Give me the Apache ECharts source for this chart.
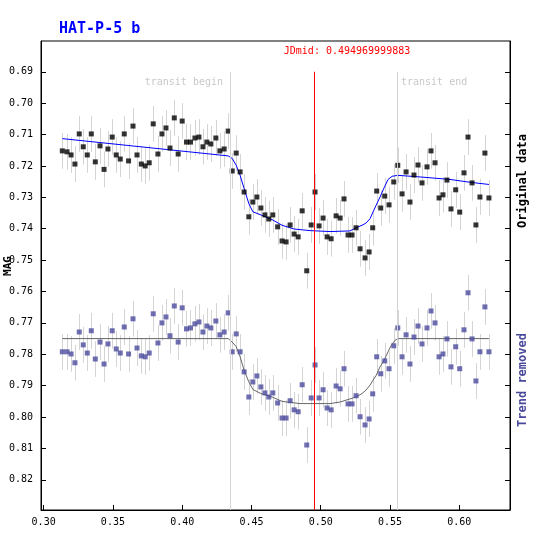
<!DOCTYPE html>
<html><head><meta charset="utf-8">
<script src="https://cdn.jsdelivr.net/npm/echarts@6/dist/echarts.min.js"></script>
<style>html,body{margin:0;padding:0;background:#fff}#c{width:550px;height:550px}</style>
</head><body><div id="c"></div>
<script>
const phase = [0.3135,0.3169,0.3198,0.3226,0.3257,0.3286,0.3315,0.3344,0.3373,0.3407,
0.3436,0.3464,0.3495,0.3524,0.3553,0.3582,0.3613,0.3645,0.3674,0.3705,
0.3733,0.3762,0.3791,0.3825,0.3854,0.3883,0.3912,0.3943,0.3971,0.4000,
0.4031,0.4060,0.4092,0.4121,0.4150,0.4178,0.4207,0.4243,0.4272,0.4303,
0.4332,0.4361,0.4390,0.4418,0.4447,0.4481,0.4510,0.4539,0.4568,0.4597,
0.4625,0.4654,0.4689,0.4721,0.4750,0.4779,0.4808,0.4837,0.4866,0.4899,
0.4931,0.4959,0.4988,0.5017,0.5046,0.5075,0.5111,0.5140,0.5168,0.5197,
0.5226,0.5255,0.5284,0.5320,0.5349,0.5375,0.5404,0.5433,0.5462,0.5493,
0.5527,0.5556,0.5587,0.5616,0.5644,0.5673,0.5702,0.5731,0.5767,0.5796,
0.5825,0.5854,0.5882,0.5911,0.5940,0.5974,0.6003,0.6034,0.6063,0.6092,
0.6120,0.6149,0.6185,0.6214];
const magOriginal = [0.7152,0.7155,0.7165,0.7194,0.7098,0.7139,0.7165,0.7098,0.7187,0.7136,
0.7211,0.7146,0.7108,0.7165,0.7178,0.7098,0.7184,0.7073,0.7165,0.7194,
0.7200,0.7190,0.7066,0.7162,0.7098,0.7079,0.7143,0.7047,0.7162,0.7057,
0.7124,0.7124,0.7111,0.7108,0.7139,0.7124,0.7130,0.7111,0.7152,0.7146,
0.7089,0.7216,0.7159,0.7219,0.7283,0.7362,0.7315,0.7299,0.7334,0.7356,
0.7369,0.7356,0.7394,0.7439,0.7442,0.7388,0.7417,0.7426,0.7343,0.7534,
0.7388,0.7283,0.7391,0.7366,0.7426,0.7432,0.7359,0.7366,0.7305,0.7420,
0.7420,0.7397,0.7464,0.7493,0.7474,0.7397,0.7280,0.7334,0.7296,0.7324,
0.7251,0.7198,0.7289,0.7219,0.7315,0.7229,0.7197,0.7254,0.7203,0.7152,
0.7190,0.7302,0.7292,0.7245,0.7337,0.7276,0.7347,0.7222,0.7108,0.7254,
0.7388,0.7299,0.7159,0.7302];
const magDetrended = [0.7792,0.7792,0.7799,0.7827,0.7729,0.7770,0.7796,0.7725,0.7815,0.7761,
0.7831,0.7767,0.7725,0.7783,0.7796,0.7713,0.7799,0.7687,0.7780,0.7805,
0.7808,0.7796,0.7671,0.7764,0.7700,0.7681,0.7741,0.7646,0.7761,0.7652,
0.7719,0.7716,0.7703,0.7697,0.7729,0.7710,0.7716,0.7694,0.7738,0.7729,
0.7668,0.7792,0.7735,0.7792,0.7856,0.7936,0.7888,0.7869,0.7904,0.7923,
0.7936,0.7923,0.7955,0.8003,0.8003,0.7948,0.7977,0.7983,0.7897,0.8089,
0.7939,0.7834,0.7939,0.7913,0.7971,0.7977,0.7901,0.7910,0.7846,0.7958,
0.7958,0.7932,0.7999,0.8025,0.8006,0.7926,0.7808,0.7862,0.7821,0.7846,
0.7773,0.7716,0.7808,0.7738,0.7831,0.7745,0.7710,0.7767,0.7716,0.7662,
0.7700,0.7808,0.7799,0.7751,0.7840,0.7776,0.7846,0.7722,0.7604,0.7751,
0.7885,0.7792,0.7649,0.7792];
const magError = 0.0057;
const trendX = [0.3135,0.4332,0.4361,0.4390,0.4418,0.4447,0.4481,0.4510,0.4568,0.4649,0.4721,0.4808,0.4923,0.5067,0.5211,0.5255,0.5298,0.5327,0.5356,0.5378,0.5400,0.5428,0.5457,0.5486,0.5515,0.5556,0.5716,0.5933,0.6077,0.6214];
const trendY = [0.7113,0.7168,0.7176,0.7198,0.7230,0.7272,0.7320,0.7346,0.7356,0.7371,0.7389,0.7401,0.7406,0.7409,0.7407,0.7397,0.7389,0.7382,0.7368,0.7346,0.7325,0.7299,0.7270,0.7243,0.7233,0.7230,0.7235,0.7243,0.7252,0.7259];
const modelX = [0.3135,0.4332,0.4361,0.4390,0.4418,0.4447,0.4481,0.4510,0.4568,0.4649,0.4721,0.4851,0.5067,0.5140,0.5255,0.5298,0.5327,0.5356,0.5378,0.5400,0.5428,0.5457,0.5486,0.5508,0.5537,0.5559,0.6214];
const modelY = [0.7750,0.7750,0.7761,0.7776,0.7808,0.7851,0.7888,0.7912,0.7925,0.7936,0.7950,0.7957,0.7957,0.7952,0.7936,0.7925,0.7914,0.7898,0.7882,0.7867,0.7840,0.7819,0.7792,0.7772,0.7755,0.7750,0.7750];
const xTicks = [0.30,0.35,0.40,0.45,0.50,0.55,0.60];
const yTicks = [0.69,0.70,0.71,0.72,0.73,0.74,0.75,0.76,0.77,0.78,0.79,0.80,0.81,0.82];
const transitBegin = 0.4349;
const transitEnd = 0.5553;
const jdMid = 0.494969999883;
const markTop = 0.69;

const MONO = "'DejaVu Sans Mono', monospace";
const X_MIN = 0.2981, X_MAX = 0.6366, Y_MIN = 0.6802, Y_MAX = 0.8296;

const ptsOrig = phase.map((p,i)=>[p, magOriginal[i], magError]);
const ptsDet = phase.map((p,i)=>[p, magDetrended[i], magError]);
const trendData = trendX.map((x,i)=>[x, trendY[i]]);
const modelData = modelX.map((x,i)=>[x, modelY[i]]);

function errBar(params, api){
  const x = api.value(0), y = api.value(1), e = api.value(2);
  const a = api.coord([x, y - e]), b = api.coord([x, y + e]);
  const px = Math.round(a[0]) + 0.5;
  return {type:'line', shape:{x1:px, y1:a[1], x2:px, y2:b[1]}, style:{stroke:'#d4d4d4', lineWidth:1}};
}

const chart = echarts.init(document.getElementById('c'), null, {renderer:'canvas'});
const axisLabelStyle = {color:'#000', fontFamily:MONO, fontSize:10};
chart.setOption({
  animation:false,
  backgroundColor:'#fff',
  title:{text:'HAT-P-5 b', left:54, top:17, textStyle:{color:'#0000ff', fontFamily:MONO, fontSize:15, fontWeight:'bold'}},
  grid:{left:41, right:40, top:41, bottom:40, show:true, borderColor:'#000', borderWidth:1, containLabel:false},
  xAxis:{type:'value', min:X_MIN, max:X_MAX, splitLine:{show:false},
    axisLine:{show:true, onZero:false, lineStyle:{color:'#000'}},
    axisTick:{show:true, inside:true, length:5, customValues:xTicks, lineStyle:{color:'#000'}},
    axisLabel:{show:true, customValues:xTicks, formatter:v=>v.toFixed(2), margin:7, ...axisLabelStyle}},
  yAxis:[
    {type:'value', inverse:true, min:Y_MIN, max:Y_MAX, splitLine:{show:false},
      axisLine:{show:true, lineStyle:{color:'#000'}},
      axisTick:{show:true, inside:true, length:5, customValues:yTicks, lineStyle:{color:'#000'}},
      axisLabel:{show:true, customValues:yTicks, formatter:v=>v.toFixed(2), margin:8, ...axisLabelStyle}},
    {type:'value', inverse:true, position:'right', min:Y_MIN, max:Y_MAX, splitLine:{show:false},
      axisLine:{show:true, lineStyle:{color:'#000'}},
      axisTick:{show:true, inside:true, length:5, customValues:yTicks, lineStyle:{color:'#000'}},
      axisLabel:{show:false}}
  ],
  series:[
    {type:'custom', renderItem:errBar, data:ptsOrig, encode:{x:0,y:1}, silent:true, z:1},
    {type:'custom', renderItem:errBar, data:ptsDet, encode:{x:0,y:1}, silent:true, z:1},
    {type:'line', data:[], silent:true, z:2,
      markLine:{silent:true, symbol:'none', label:{show:false}, animation:false,
        data:[
          [{coord:[transitBegin, markTop], lineStyle:{color:'#d4d4d4', width:1, type:'solid'}},{coord:[transitBegin, Y_MAX]}],
          [{coord:[transitEnd, markTop], lineStyle:{color:'#d4d4d4', width:1, type:'solid'}},{coord:[transitEnd, Y_MAX]}],
          [{coord:[jdMid, markTop], lineStyle:{color:'#ff0000', width:1, type:'solid'}},{coord:[jdMid, Y_MAX]}]
        ]}},
    {type:'line', data:trendData, showSymbol:false, symbol:'none', lineStyle:{color:'#0000ff', width:1}, z:3, silent:true},
    {type:'line', data:modelData, showSymbol:false, symbol:'none', lineStyle:{color:'#666666', width:1}, z:3, silent:true},
    {type:'scatter', data:ptsOrig, symbol:'rect', symbolSize:5, itemStyle:{color:'#000'}, z:4, silent:true},
    {type:'scatter', data:ptsDet, symbol:'rect', symbolSize:5, itemStyle:{color:'#4a4a9c'}, z:4, silent:true}
  ],
  graphic:[
    {type:'text', x:347, y:51, style:{text:'JDmid: '+jdMid, fill:'#ff0000', font:'10px '+MONO, align:'center', verticalAlign:'middle'}},
    {type:'text', x:223, y:82, style:{text:'transit begin', fill:'#c8c8c8', font:'10px '+MONO, align:'right', verticalAlign:'middle'}},
    {type:'text', x:401, y:82, style:{text:'transit end', fill:'#c8c8c8', font:'10px '+MONO, align:'left', verticalAlign:'middle'}},
    {type:'text', x:8, y:266, rotation:Math.PI/2, style:{text:'MAG', fill:'#000', font:'bold 11px '+MONO, align:'center', verticalAlign:'middle'}},
    {type:'text', x:523, y:181, rotation:Math.PI/2, style:{text:'Original data', fill:'#000', font:'bold 12px '+MONO, align:'center', verticalAlign:'middle'}},
    {type:'text', x:523, y:380, rotation:Math.PI/2, style:{text:'Trend removed', fill:'#4a4a9c', font:'bold 12px '+MONO, align:'center', verticalAlign:'middle'}}
  ]
});
</script></body></html>
